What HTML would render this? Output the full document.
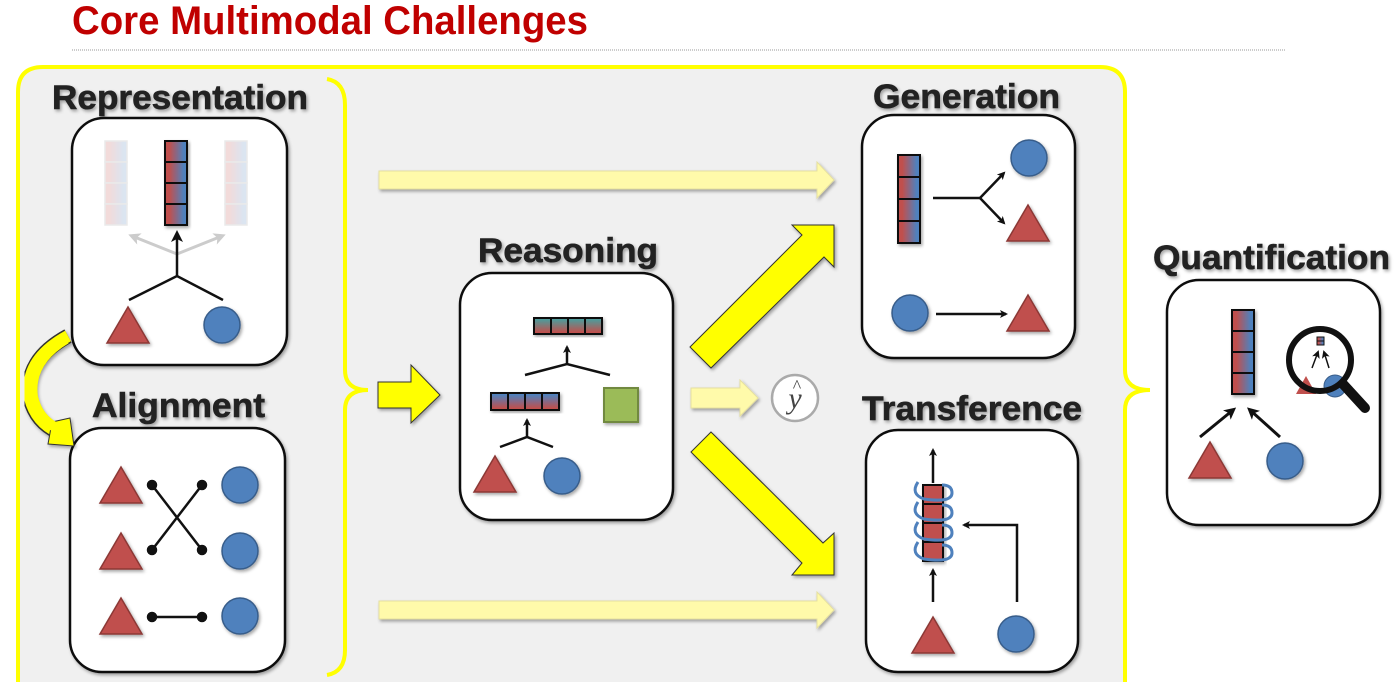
<!DOCTYPE html>
<html><head><meta charset="utf-8"><style>
html,body{margin:0;padding:0;background:#fff;width:1400px;height:682px;overflow:hidden}
svg{display:block}
.lbl{font-family:"Liberation Sans",Arial,sans-serif;font-weight:bold;font-size:34px;fill:#222;stroke:#222;stroke-width:0.6}
</style></head><body>
<svg width="1400" height="682" viewBox="0 0 1400 682" xmlns="http://www.w3.org/2000/svg">
<defs>
<linearGradient id="gh" x1="0" y1="0" x2="1" y2="0"><stop offset="0.2" stop-color="#c0504d"/><stop offset="0.85" stop-color="#4f81bd"/></linearGradient>
<linearGradient id="gv" x1="0" y1="0" x2="0" y2="1"><stop offset="0.1" stop-color="#4f9a9a"/><stop offset="0.9" stop-color="#c0504d"/></linearGradient>
<linearGradient id="gv2" x1="0" y1="0" x2="0" y2="1"><stop offset="0.1" stop-color="#4f81bd"/><stop offset="0.9" stop-color="#c0504d"/></linearGradient>
<filter id="sh" x="-10%" y="-10%" width="130%" height="130%"><feDropShadow dx="1.5" dy="2" stdDeviation="1.5" flood-color="#000" flood-opacity="0.35"/></filter>
<marker id="ah" markerWidth="8" markerHeight="8" refX="6" refY="4" orient="auto" markerUnits="userSpaceOnUse"><path d="M0,0 L8,4 L0,8 L2,4 Z" fill="#111"/></marker>
<marker id="ahs" markerWidth="12" markerHeight="12" refX="8" refY="6" orient="auto" markerUnits="userSpaceOnUse"><path d="M0,0 L12,6 L0,12 L3,6 Z" fill="#111"/></marker>
<marker id="ahg" markerWidth="12" markerHeight="12" refX="8" refY="6" orient="auto" markerUnits="userSpaceOnUse"><path d="M0,0 L12,6 L0,12 L3,6 Z" fill="#ccc"/></marker>
</defs>

<text x="72" y="34" font-family="'Liberation Sans',Arial,sans-serif" font-weight="bold" font-size="40" fill="#c00000" textLength="516" lengthAdjust="spacingAndGlyphs">Core Multimodal Challenges</text>
<line x1="72" y1="50" x2="1285" y2="50" stroke="#999" stroke-width="1" stroke-dasharray="1,1"/>

<path d="M18,700 L18,92 Q18,67 43,67 L1100,67 Q1125,67 1125,92 L1125,370 Q1125,390 1150,390 Q1125,390 1125,410 L1125,700 Z" fill="#f0f0f0" stroke="#ffff00" stroke-width="4"/>
<path d="M327,79 Q345,82 345,105 L345,370 Q345,390 368,390 Q345,390 345,410 L345,650 Q345,672 327,675" fill="none" stroke="#ffff00" stroke-width="4"/>

<g filter="url(#sh)">
<text class="lbl" x="52" y="109" textLength="256" lengthAdjust="spacingAndGlyphs">Representation</text>
<text class="lbl" x="92" y="417" textLength="173" lengthAdjust="spacingAndGlyphs">Alignment</text>
<text class="lbl" x="478" y="262" textLength="180" lengthAdjust="spacingAndGlyphs">Reasoning</text>
<text class="lbl" x="873" y="108" textLength="187" lengthAdjust="spacingAndGlyphs">Generation</text>
<text class="lbl" x="862" y="420" textLength="220" lengthAdjust="spacingAndGlyphs">Transference</text>
<text class="lbl" x="1153" y="269" textLength="237" lengthAdjust="spacingAndGlyphs">Quantification</text>
</g>

<g fill="#fff" stroke="#111" stroke-width="2.5" filter="url(#sh)">
<rect x="72" y="118" width="215" height="247" rx="32"/>
<rect x="70" y="428" width="215" height="244" rx="32"/>
<rect x="460" y="273" width="213" height="247" rx="32"/>
<rect x="862" y="115" width="213" height="243" rx="32"/>
<rect x="866" y="430" width="212" height="242" rx="32"/>
<rect x="1167" y="280" width="213" height="245" rx="32"/>
</g>

<g fill="#fffaaa" stroke="#e6e0a0" stroke-width="1" filter="url(#sh)">
<polygon points="379,171 817,171 817,162 834,180 817,198 817,189 379,189"/>
<polygon points="379,601 817,601 817,592 834,610 817,628 817,619 379,619"/>
<polygon points="691,388 740,388 740,380 758,398 740,416 740,408 691,408"/>
</g>
<g fill="#ffff00" stroke="#333" stroke-width="1" filter="url(#sh)">
<polygon points="378,382 411,382 411,365 440,395 411,423 411,408 378,408"/>
<polygon points="690,347 802,235 792,225 834,225 834,267 824,257 711,368"/>
<polygon points="711,432 823,543 834,533 834,575 792,575 802,563 691,452"/>
</g>
<!-- curved arrow -->
<g filter="url(#sh)">
<path d="M68,336 Q24,360 30,398 Q36,422 58,432" fill="none" stroke="#333" stroke-width="15"/>
<path d="M68,336 Q24,360 30,398 Q36,422 58,432" fill="none" stroke="#ffff00" stroke-width="12"/>
<polygon points="52,422 70,418 74,446 48,444" fill="#ffff00" stroke="#333" stroke-width="1"/>
</g>
<path d="M66,339 Q28,362 33,397 Q38,419 57,428" fill="none" stroke="#ffff00" stroke-width="10"/>

<circle cx="795" cy="398" r="23" fill="#fff" stroke="#aaa" stroke-width="2.5"/>
<text x="795" y="408" text-anchor="middle" font-family="'Liberation Serif',serif" font-style="italic" font-size="30" fill="#444">y</text>
<text x="797" y="392" text-anchor="middle" font-family="'Liberation Serif',serif" font-size="18" fill="#444">^</text>

<g opacity="0.2" stroke="#999" stroke-width="1.5" fill="url(#gh)">
<rect x="105" y="141" width="22" height="21"/><rect x="105" y="162" width="22" height="21"/><rect x="105" y="183" width="22" height="21"/><rect x="105" y="204" width="22" height="21"/>
<rect x="225" y="141" width="22" height="21"/><rect x="225" y="162" width="22" height="21"/><rect x="225" y="183" width="22" height="21"/><rect x="225" y="204" width="22" height="21"/>
</g>
<g stroke="#111" stroke-width="2" fill="url(#gh)" filter="url(#sh)">
<rect x="165" y="141" width="22" height="21"/><rect x="165" y="162" width="22" height="21"/><rect x="165" y="183" width="22" height="21"/><rect x="165" y="204" width="22" height="21"/>
</g>
<g stroke="#ccc" stroke-width="3" fill="none">
<line x1="177" y1="254" x2="132" y2="236" marker-end="url(#ahg)"/>
<line x1="177" y1="254" x2="222" y2="236" marker-end="url(#ahg)"/>
</g>
<g stroke="#111" stroke-width="2.5" fill="none">
<line x1="177" y1="276" x2="177" y2="234" marker-end="url(#ahs)"/>
<polyline points="129,300 177,276 223,300"/>
</g>

<g fill="#c0504d" stroke="#8c3836" stroke-width="1.5" filter="url(#sh)">
<polygon points="128,307 149,343 107,343"/>
<polygon points="121,467 142,503 100,503"/>
<polygon points="121,533 142,569 100,569"/>
<polygon points="121,598 142,634 100,634"/>
<polygon points="495,456 516,492 474,492"/>
<polygon points="1028,205 1049,241 1007,241"/>
<polygon points="1028,295 1049,331 1007,331"/>
<polygon points="933,617 954,653 912,653"/>
<polygon points="1210,442 1231,478 1189,478"/>
</g>
<g fill="#4f81bd" stroke="#385d8a" stroke-width="1.5" filter="url(#sh)">
<circle cx="222" cy="325" r="18"/>
<circle cx="240" cy="485" r="18"/>
<circle cx="240" cy="551" r="18"/>
<circle cx="240" cy="616" r="18"/>
<circle cx="562" cy="476" r="18"/>
<circle cx="1029" cy="158" r="18"/>
<circle cx="910" cy="313" r="18"/>
<circle cx="1016" cy="634" r="18"/>
<circle cx="1285" cy="461" r="18"/>
</g>

<g stroke="#111" stroke-width="2.5" fill="#111">
<line x1="152" y1="485" x2="202" y2="550"/><line x1="202" y1="485" x2="152" y2="550"/><line x1="152" y1="617" x2="202" y2="617"/>
<circle cx="152" cy="485" r="4"/><circle cx="202" cy="485" r="4"/><circle cx="152" cy="550" r="4"/><circle cx="202" cy="550" r="4"/><circle cx="152" cy="617" r="4"/><circle cx="202" cy="617" r="4"/>
</g>

<g stroke="#111" stroke-width="2" fill="url(#gv)" filter="url(#sh)">
<rect x="534" y="318" width="17" height="16"/><rect x="551" y="318" width="17" height="16"/><rect x="568" y="318" width="17" height="16"/><rect x="585" y="318" width="17" height="16"/>
</g>
<g stroke="#111" stroke-width="2" fill="url(#gv2)" filter="url(#sh)">
<rect x="491" y="393" width="17" height="17"/><rect x="508" y="393" width="17" height="17"/><rect x="525" y="393" width="17" height="17"/><rect x="542" y="393" width="17" height="17"/>
</g>
<rect x="604" y="388" width="34" height="34" fill="#9bbb59" stroke="#71893f" stroke-width="2" filter="url(#sh)"/>
<g stroke="#111" stroke-width="2.5" fill="none">
<line x1="567" y1="364" x2="567" y2="347" marker-end="url(#ah)"/>
<polyline points="525,375 567,364 610,375"/>
<line x1="527" y1="437" x2="527" y2="420" marker-end="url(#ah)"/>
<polyline points="500,447 527,437 553,447"/>
</g>

<g stroke="#111" stroke-width="2" fill="url(#gh)" filter="url(#sh)">
<rect x="898" y="155" width="22" height="22"/><rect x="898" y="177" width="22" height="22"/><rect x="898" y="199" width="22" height="22"/><rect x="898" y="221" width="22" height="22"/>
</g>
<g stroke="#111" stroke-width="2.5" fill="none">
<line x1="933" y1="198" x2="980" y2="198"/>
<line x1="980" y1="198" x2="1004" y2="173" marker-end="url(#ah)"/>
<line x1="980" y1="198" x2="1004" y2="223" marker-end="url(#ah)"/>
<line x1="936" y1="314" x2="1006" y2="314" marker-end="url(#ah)"/>
</g>

<g stroke="#111" stroke-width="2" fill="#c0504d" filter="url(#sh)">
<rect x="923" y="485" width="20" height="19"/><rect x="923" y="504" width="20" height="19"/><rect x="923" y="523" width="20" height="19"/><rect x="923" y="542" width="20" height="19"/>
</g>
<g stroke="#4f81bd" stroke-width="3" fill="none">
<path d="M918,482 Q910,494 924,499 Q952,503 952,493 Q952,485 942,485"/>
<path d="M918,502 Q910,514 924,519 Q952,523 952,513 Q952,505 942,505"/>
<path d="M918,522 Q910,534 924,539 Q952,543 952,533 Q952,525 942,525"/>
<path d="M918,542 Q910,554 924,559 Q952,563 952,553 Q952,545 942,545"/>
</g>
<g stroke="#111" stroke-width="2.5" fill="none">
<line x1="933" y1="483" x2="933" y2="450" marker-end="url(#ah)"/>
<line x1="933" y1="602" x2="933" y2="570" marker-end="url(#ah)"/>
<polyline points="1017,602 1017,525 964,525" marker-end="url(#ah)"/>
</g>

<g stroke="#111" stroke-width="2" fill="url(#gh)" filter="url(#sh)">
<rect x="1232" y="310" width="22" height="21"/><rect x="1232" y="331" width="22" height="21"/><rect x="1232" y="352" width="22" height="21"/><rect x="1232" y="373" width="22" height="21"/>
</g>
<g stroke="#111" stroke-width="3" fill="none">
<line x1="1200" y1="437" x2="1233" y2="410" marker-end="url(#ahs)"/>
<line x1="1280" y1="437" x2="1250" y2="410" marker-end="url(#ahs)"/>
</g>
<circle cx="1320" cy="360" r="31" fill="#fff"/>
<polygon points="1306,376 1316,394 1296,394" fill="#c0504d"/>
<circle cx="1335" cy="386" r="11" fill="#4f81bd" stroke="#385d8a"/>
<rect x="1317" y="337" width="7" height="4" fill="url(#gh)" stroke="#111" stroke-width="1"/>
<rect x="1317" y="341" width="7" height="4" fill="url(#gh)" stroke="#111" stroke-width="1"/>
<g stroke="#111" stroke-width="1.5"><line x1="1312" y1="368" x2="1318" y2="352" marker-end="url(#ah)"/><line x1="1329" y1="368" x2="1324" y2="352" marker-end="url(#ah)"/></g>
<circle cx="1320" cy="360" r="31" fill="none" stroke="#111" stroke-width="6"/>
<line x1="1343" y1="384" x2="1365" y2="408" stroke="#111" stroke-width="10" stroke-linecap="round"/>
</svg>
</body></html>
